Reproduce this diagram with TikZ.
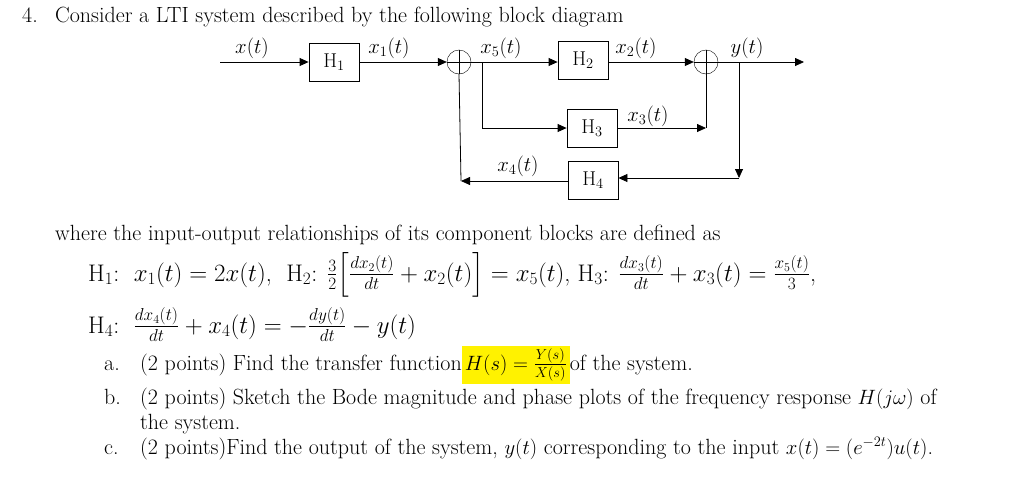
\documentclass[tikz,border=0pt]{standalone}
\usepackage{amsmath}
\usetikzlibrary{arrows.meta}
\begin{document}
\begin{tikzpicture}[x=1pt,y=-1pt,
  blk/.style={draw,thick,minimum width=50pt,minimum height=38pt,inner sep=0pt,font=\fontsize{20}{24}\selectfont},
  sumn/.style={draw,circle,minimum size=24pt,inner sep=0pt},
  arr/.style={thick,-{Triangle[length=9pt,width=8pt]}},
  lbl/.style={font=\fontsize{20}{24}\selectfont},
  txt/.style={anchor=base west,inner sep=0pt,font=\fontsize{22}{26}\selectfont},
  eqn/.style={anchor=base west,inner sep=0pt,font=\fontsize{24}{28}\selectfont}]
\useasboundingbox (0,0) rectangle (1024,488);
% block diagram
\coordinate (in) at (220,62);
\node[blk] (h1) at (334,62) {H$_1$};
\node[sumn] (s1) at (459,62) {};
\draw[thick] (s1.north)--(s1.south) (s1.west)--(s1.east);
\node[blk] (h2) at (583,60) {H$_2$};
\node[sumn] (s2) at (706,62) {};
\draw[thick] (s2.north)--(s2.south) (s2.west)--(s2.east);
\node[blk] (h3) at (592,128) {H$_3$};
\node[blk] (h4) at (593,180) {H$_4$};
\coordinate (out) at (804,62);
\coordinate (b1) at (482,62);
\coordinate (b1d) at (482,128);
\coordinate (b2) at (739,62);
\coordinate (b2d) at (739,178);
\coordinate (h3r) at (706,128);
\coordinate (h4l) at (461,181);
\draw[arr] (in)--(h1);
\draw[arr] (h1)--(s1);
\draw[arr] (s1)--(h2.west|-s1);
\draw[arr] (h2.east|-s2)--(s2);
\draw[arr] (s2)--(out);
\draw[thick] (b1)--(b1d);
\draw[arr] (b1d)--(h3);
\draw[arr] (h3)--(h3r);
\draw[thick] (h3r)--(s2.south);
\draw[arr] (b2)--(b2d);
\draw[arr] (b2d)--(h4.east|-b2d);
\draw[arr] (h4.west|-h4l)--(h4l);
\draw[thick] (h4l)--(s1.south);
\node[lbl] (lx) at (252,48) {$x(t)$};
\node[lbl] (lx1) at (389,48) {$x_1(t)$};
\node[lbl] (lx5) at (501,48) {$x_5(t)$};
\node[lbl] (lx2) at (636,48) {$x_2(t)$};
\node[lbl] (ly) at (747,48) {$y(t)$};
\node[lbl] (lx3) at (648,116) {$x_3(t)$};
\node[lbl] (lx4) at (518,166) {$x_4(t)$};
% text
\node[txt] (t0) at (22,22) {4.};
\node[txt] (t1) at (55,22) {Consider a LTI system described by the following block diagram};
\node[txt] (t2) at (55,240) {where the input-output relationships of its component blocks are defined as};
\node[eqn] (t3) at (88,281) {H$_1$:\ \ $x_1(t)=2x(t)$,\ \ H$_2$: $\frac{3}{2}\Big[\frac{dx_2(t)}{dt}+x_2(t)\Big]=x_5(t)$, H$_3$: $\frac{dx_3(t)}{dt}+x_3(t)=\frac{x_5(t)}{3}$,};
\node[eqn] (t4) at (88,333) {H$_4$:\ \ $\frac{dx_4(t)}{dt}+x_4(t)=-\frac{dy(t)}{dt}-y(t)$};
\node[txt] (t5) at (104,370) {a.};
\node[txt] (t6) at (140,370) {(2 points) Find the transfer function\colorbox{yellow}{\strut$H(s)=\frac{Y(s)}{X(s)}$}of the system.};
\node[txt] (t7) at (104,404) {b.};
\node[txt] (t8) at (140,404) {(2 points) Sketch the Bode magnitude and phase plots of the frequency response $H(j\omega)$ of};
\node[txt] (t9) at (140,429) {the system.};
\node[txt] (t10) at (104,454) {c.};
\node[txt] (t11) at (140,454) {(2 points)Find the output of the system, $y(t)$ corresponding to the input $x(t)=(e^{-2t})u(t)$.};
\end{tikzpicture}
\end{document}
